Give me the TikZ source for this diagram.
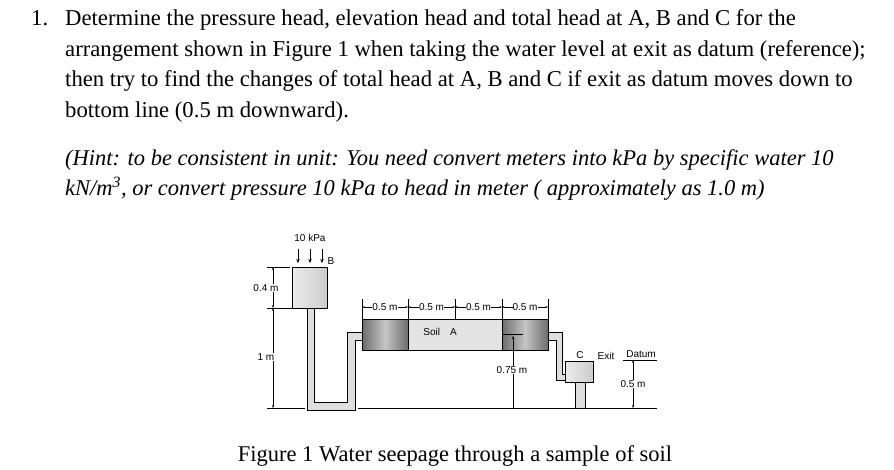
\documentclass[tikz,border=0pt]{standalone}
\usepackage{fontspec}
\setmainfont{Liberation Serif}
\newfontfamily\lsans{Liberation Sans}
\usetikzlibrary{arrows.meta}
\begin{document}
\begin{tikzpicture}[x=1pt,y=-1pt,
  txt/.style={anchor=base west,inner sep=0,font=\fontsize{22.7}{26}\selectfont},
  itx/.style={anchor=base west,inner sep=0,font=\fontsize{22.5}{26}\selectfont\itshape},
  lab/.style={inner sep=0.5,font=\lsans\fontsize{10}{11}\selectfont},
  pipe/.style={draw=black,line width=0.6,fill=gray!25},
  dim/.style={line width=0.5},
  dark/.style={draw=black,line width=0.7,left color=gray!85!black,right color=gray!85!black,middle color=gray!45}]
\useasboundingbox (0,0) rectangle (894,469);
\node[txt] (n1) at (31,25) {1.};
\node[txt] (l1) at (65,25) {Determine the pressure head, elevation head and total head at A, B and C for the};
\node[txt] (l2) at (65,56) {arrangement shown in Figure 1 when taking the water level at exit as datum (reference);};
\node[txt] (l3) at (65,86) {then try to find the changes of total head at A, B and C if exit as datum moves down to};
\node[txt] (l4) at (65,117) {bottom line (0.5 m downward).};
\node[itx] (h1) at (65,165) {(Hint: to be consistent in unit: You need convert meters into kPa by specific water 10};
\node[itx] (h2) at (65,195) {kN/m\textsuperscript{3}, or convert pressure 10 kPa to head in meter ( approximately as 1.0 m)};
\node[itx,anchor=base,font=\fontsize{22.5}{26}\selectfont] (cap) at (455,461) {Figure 1 Water seepage through a sample of soil};
% ground
\draw[line width=0.8] (267,408) -- (305,408);
\draw[line width=0.8] (358,408) -- (657,408);
% left pipe
\draw[pipe] (307,305) -- (307,410) -- (355,410) -- (355,340) -- (362,340) -- (362,332) -- (347,332) -- (347,402) -- (314,402) -- (314,305) -- cycle;
% tank B
\node[draw,line width=0.7,left color=gray!15,right color=gray!40,minimum width=35,minimum height=41,inner sep=0] (B) at (309.5,287.5) {};
% sample
\node[dark,minimum width=46,minimum height=31,inner sep=0] (s1) at (385,334.5) {};
\node[draw,line width=0.7,fill=gray!22,minimum width=94,minimum height=31,inner sep=0] (soil) at (455,334.5) {};
\node[dark,minimum width=46,minimum height=31,inner sep=0] (s3) at (525,334.5) {};
\node[lab] (soiltxt) at (440,332) {Soil\quad A};
% right pipe
\draw[pipe] (548,332) -- (562,332) -- (562,374) -- (566,374) -- (566,380) -- (556,380) -- (556,340) -- (548,340) -- cycle;
\draw[pipe] (575,382) rectangle (585,408);
\node[draw,line width=0.7,left color=gray!15,right color=gray!40,minimum width=28,minimum height=21,inner sep=0] (C) at (579,371.5) {};
% 0.75 m
\coordinate (g75) at (513,408);
\coordinate (t75) at (513,336);
\draw[line width=0.8] (502,334) -- (523,334);
\draw[dim,-{Stealth[length=3pt]}] (g75) -- (t75);
\node[lab,fill=white] (d75) at (512,370) {0.75 m};
% left dims
\draw[dim] (267,267) -- (290,267);
\draw[dim] (267,308) -- (306,308);
\draw[dim,{Stealth[length=3pt]}-{Stealth[length=3pt]}] (273,267) -- (273,308);
\draw[dim,{Stealth[length=3pt]}-{Stealth[length=3pt]}] (273,308) -- (273,408);
\node[lab,fill=white] (d04) at (266,288) {0.4 m};
\node[lab,fill=white] (d1) at (266,357) {1 m};
% top dims
\foreach \x in {362,408,455,502,548} \draw[dim] (\x,299) -- (\x,319);
\foreach \a/\b [count=\i] in {362/408,408/455,455/502,502/548}{
  \draw[dim,{Stealth[length=2.5pt]}-{Stealth[length=2.5pt]}] (\a,307) -- (\b,307);
  \node[lab,fill=white,inner sep=0] (t\i) at ({(\a+\b)/2},307) {0.5 m};}
% load
\node[lab] (kpa) at (310,238) {10 kPa};
\foreach \x in {298,310,322} \draw[dim,-{Stealth[length=4pt,width=3.5pt]}] (\x,249) -- (\x,263);
\node[lab] (Bl) at (331,261) {B};
% exit side
\node[lab] (Cl) at (580,355) {C};
\node[lab] (ex) at (606,356) {Exit};
\node[lab] (dat) at (641,354) {Datum};
\draw[dim] (623,360) -- (657,360);
\draw[dim] (626,408) -- (640,408);
\draw[dim,{Stealth[length=3pt]}-{Stealth[length=3pt]}] (633,360) -- (633,408);
\node[lab,fill=white] (d05) at (633,384) {0.5 m};
\end{tikzpicture}
\end{document}
